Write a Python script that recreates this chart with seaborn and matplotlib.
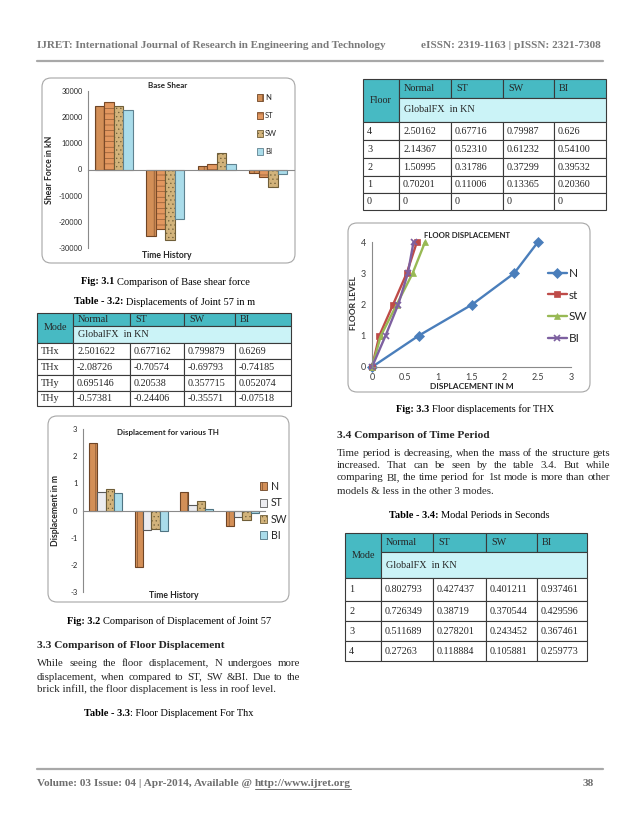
import numpy as np
import pandas as pd
import matplotlib
matplotlib.use('Agg')
import matplotlib.pyplot as plt
import seaborn as sns
from matplotlib.patches import FancyBboxPatch, Rectangle, Patch
from matplotlib.lines import Line2D
from matplotlib.ticker import MultipleLocator, AutoMinorLocator

# --- DATA ---
models = ['N', 'ST', 'SW', 'BI']
th_cases = ['THx (+)', 'THx (-)', 'THy (+)', 'THy (-)']

# Fig 3.1 base shear (kN)
shear_N = [24100, -25600, 1150, -1400]
shear_ST = [25800, -22700, 2200, -2900]
shear_SW = [24200, -26800, 6400, -6800]
shear_BI = [22800, -18900, 2200, -1900]

# Table 3.2 / Fig 3.2 displacement of joint 57 (m)
disp_modes = ['THx', 'THx', 'THy', 'THy']
disp_N = [2.501622, -2.08726, 0.695146, -0.57381]
disp_ST = [0.677162, -0.70574, 0.20538, -0.24406]
disp_SW = [0.799879, -0.69793, 0.357715, -0.35571]
disp_BI = [0.6269, -0.74185, 0.052074, -0.07518]

# Table 3.3 / Fig 3.3 floor displacement for THx
floors = ['4', '3', '2', '1', '0']
floor_N = ['2.50162', '2.14367', '1.50995', '0.70201', '0']
floor_ST = ['0.67716', '0.52310', '0.31786', '0.11006', '0']
floor_SW = ['0.79987', '0.61232', '0.37299', '0.13365', '0']
floor_BI = ['0.626', '0.54100', '0.39532', '0.20360', '0']
line_labels = ['N', 'st', 'SW', 'BI']

# Table 3.4 modal periods (s)
period_modes = ['1', '2', '3', '4']
period_N = ['0.802793', '0.726349', '0.511689', '0.27263']
period_ST = ['0.427437', '0.38719', '0.278201', '0.118884']
period_SW = ['0.401211', '0.370544', '0.243452', '0.105881']
period_BI = ['0.937461', '0.429596', '0.367461', '0.259773']

head_cols = ['Normal', 'ST', 'SW', 'BI']

# --- STYLE ---
sns.set_style('white')
plt.rcParams['font.family'] = ['Lato', 'DejaVu Sans']
plt.rcParams['axes.unicode_minus'] = False
plt.rcParams['hatch.linewidth'] = 0.4

SERIF = 'Liberation Serif'
W, H = 638, 826
TEAL = '#47bac3'
CYAN = '#cbf3f7'
GRID = '#3a3a3a'
AXC = '#8a8a8a'
TXT = '#262626'

fig = plt.figure(figsize=(W / 100, H / 100), dpi=100)
bg = fig.add_axes([0, 0, 1, 1])
bg.set_xlim(0, W)
bg.set_ylim(H, 0)
bg.axis('off')
renderer = fig.canvas.get_renderer()


def ax_box(l, t, r, b):
    return fig.add_axes([l / W, 1 - b / H, (r - l) / W, (b - t) / H])


def text_w(s, **kw):
    t = bg.text(0, 0, s, **kw)
    w = t.get_window_extent(renderer).width
    t.remove()
    return w


def rich(x, y, parts, size=7.5, ha='center', color='black'):
    # parts: (text, weight, space_before)
    sp = text_w('x x', family=SERIF, fontsize=size) - text_w('xx', family=SERIF, fontsize=size)
    ws = [text_w(s, family=SERIF, fontsize=size, fontweight=wt) for s, wt, _ in parts]
    total = sum(ws) + sp * sum(1 for p in parts[1:] if p[2])
    cx = x - total / 2 if ha == 'center' else x
    for i, ((s, wt, gap), w) in enumerate(zip(parts, ws)):
        if gap and i > 0:
            cx += sp
        bg.text(cx, y, s, family=SERIF, fontsize=size, fontweight=wt,
                color=color, ha='left', va='center')
        cx += w
    return cx


def paragraph(x0, x1, ys, lines, size=7.8):
    for i, (y, line) in enumerate(zip(ys, lines)):
        if i == len(lines) - 1:
            bg.text(x0, y, line, family=SERIF, fontsize=size, ha='left', va='center')
            continue
        words = line.split()
        ws = [text_w(w, family=SERIF, fontsize=size) for w in words]
        gap = (x1 - x0 - sum(ws)) / (len(words) - 1)
        cx = x0
        for w, wd in zip(words, ws):
            bg.text(cx, y, w, family=SERIF, fontsize=size, ha='left', va='center')
            cx += wd + gap


def draw_table(xs, ys, corner, row_labels, columns, size=7.3):
    # corner cell over both header rows
    bg.add_patch(Rectangle((xs[0], ys[0]), xs[1] - xs[0], ys[2] - ys[0],
                           fc=TEAL, ec=GRID, lw=0.8))
    bg.text((xs[0] + xs[1]) / 2, (ys[0] + ys[2]) / 2, corner, family=SERIF,
            fontsize=size, ha='center', va='center')
    for j, name in enumerate(head_cols):
        bg.add_patch(Rectangle((xs[j + 1], ys[0]), xs[j + 2] - xs[j + 1], ys[1] - ys[0],
                               fc=TEAL, ec=GRID, lw=0.8))
        bg.text(xs[j + 1] + 5, (ys[0] + ys[1]) / 2, name, family=SERIF,
                fontsize=size, ha='left', va='center')
    bg.add_patch(Rectangle((xs[1], ys[1]), xs[5] - xs[1], ys[2] - ys[1],
                           fc=CYAN, ec=GRID, lw=0.8))
    bg.text(xs[1] + 5, (ys[1] + ys[2]) / 2, 'GlobalFX  in KN', family=SERIF,
            fontsize=size, ha='left', va='center')
    for i, lab in enumerate(row_labels):
        y0, y1 = ys[i + 2], ys[i + 3]
        cells = [lab] + [col[i] for col in columns]
        for j, val in enumerate(cells):
            bg.add_patch(Rectangle((xs[j], y0), xs[j + 1] - xs[j], y1 - y0,
                                   fc='white', ec=GRID, lw=0.8))
            bg.text(xs[j] + 4, (y0 + y1) / 2, str(val), family=SERIF,
                    fontsize=size, ha='left', va='center')


def chart_box(l, t, r, b):
    bg.add_patch(FancyBboxPatch((l, t), r - l, b - t,
                                boxstyle='round,pad=0,rounding_size=9',
                                fc='white', ec='#a6a6a6', lw=0.8))


def bar_axes_style(ax, lim, step, labelsize):
    ax.set_facecolor('none')
    ax.set_ylim(-lim, lim)
    ax.set_xlabel('')
    ax.set_ylabel('')
    ax.set_xticks([])
    for s in ['top', 'right']:
        ax.spines[s].set_visible(False)
    ax.spines['bottom'].set_position(('data', 0))
    ax.spines['bottom'].set_color(AXC)
    ax.spines['left'].set_color(AXC)
    ax.spines['bottom'].set_linewidth(0.8)
    ax.spines['left'].set_linewidth(0.8)
    ax.yaxis.set_major_locator(MultipleLocator(step))
    ax.yaxis.set_minor_locator(AutoMinorLocator(5))
    ax.tick_params(axis='y', which='major', direction='inout', length=4, width=0.6,
                   color=AXC, labelsize=labelsize, labelcolor=TXT, pad=2)
    ax.tick_params(axis='y', which='minor', direction='inout', length=2.5,
                   width=0.5, color=AXC)


# --- PAGE HEADER / FOOTER ---
bg.text(37, 45, 'IJRET: International Journal of Research in Engineering and Technology',
        family=SERIF, fontsize=8.0, fontweight='bold', color='#7a7a7a', va='center')
bg.text(601, 45, 'eISSN: 2319-1163 | pISSN: 2321-7308', family=SERIF, fontsize=8.1,
        fontweight='bold', color='#7a7a7a', va='center', ha='right')
bg.plot([37, 603], [61, 61], color='#a8a8a8', lw=1.6)
bg.plot([37, 603], [769, 769], color='#a8a8a8', lw=1.6)
x_end = rich(37, 783, [('Volume: 03 Issue: 04 | Apr-2014, Available @', 'bold', False),
                       ('http://www.ijret.org', 'bold', True)],
             size=8.1, ha='left', color='#6e6e6e')
lw_link = text_w('http://www.ijret.org', family=SERIF, fontsize=8.1, fontweight='bold')
bg.plot([x_end - lw_link, x_end], [788.5, 788.5], color='#6e6e6e', lw=0.7)
bg.text(594, 783, '38', family=SERIF, fontsize=8.1, fontweight='bold',
        color='#6e6e6e', ha='right', va='center')

# --- FIG 3.1 BASE SHEAR ---
chart_box(42, 78, 295, 263)
ax1 = ax_box(88, 91, 294, 248)
df1 = pd.DataFrame([(c, m, v) for m, vals in zip(models, [shear_N, shear_ST, shear_SW, shear_BI])
                    for c, v in zip(th_cases, vals)], columns=['case', 'model', 'shear'])
shear_fc = ['#d38f57', '#e2975f', '#d2b37b', '#aadcea']
shear_ec = ['#6e4526', '#7a4a28', '#6f5e38', '#5f8290']
shear_hatch = ['||', '---', '....', '']
sns.barplot(data=df1, x='case', y='shear', hue='model', order=th_cases, hue_order=models,
            palette=dict(zip(models, shear_fc)), saturation=1, width=0.74, legend=False,
            linewidth=0.8, ax=ax1)
for cont, ec, h in zip(ax1.containers, shear_ec, shear_hatch):
    for bar in cont:
        bar.set_edgecolor(ec)
        bar.set_hatch(h)
bar_axes_style(ax1, 30000, 10000, 5.3)
bg.text(168, 85, 'Base Shear', fontsize=5.8, fontweight='bold', color=TXT, ha='center', va='center')
bg.text(49, 170, 'Shear Force in kN', fontsize=6.2, fontweight='bold', color=TXT,
        ha='center', va='center', rotation=90)
bg.text(167, 256, 'Time History', fontsize=6.2, fontweight='bold', color=TXT, ha='center', va='center')
h1 = [Patch(fc=f, ec=e, hatch=h, lw=0.6) for f, e, h in zip(shear_fc, shear_ec, shear_hatch)]
fig.legend(h1, models, loc='upper left', bbox_to_anchor=(257 / W, 1 - 94 / H), frameon=False,
           fontsize=5.5, handlelength=0.8, handleheight=0.9, handletextpad=0.25,
           labelspacing=1.45, borderpad=0, borderaxespad=0, labelcolor=TXT)

rich(165, 282, [('Fig: 3.1', 'bold', False), ('Comparison of Base shear force', 'normal', True)])
rich(165, 302, [('Table - 3.2:', 'bold', False), ('Displacements of Joint 57 in m', 'normal', True)])

# --- TABLE 3.2 ---
draw_table([37, 73, 130, 184, 235, 291], [313, 326, 343, 359, 375, 391, 406],
           'Mode', disp_modes, [[str(v) for v in col] for col in [disp_N, disp_ST, disp_SW, disp_BI]])

# --- FIG 3.2 DISPLACEMENT ---
chart_box(48, 416, 289, 602)
ax2 = ax_box(83, 429, 265, 592)
df2 = pd.DataFrame([(c, m, v) for m, vals in zip(models, [disp_N, disp_ST, disp_SW, disp_BI])
                    for c, v in zip(th_cases, vals)], columns=['case', 'model', 'disp'])
disp_fc = ['#d38f57', '#ececf0', '#d2b37b', '#aadcea']
disp_ec = ['#6e4526', '#5a5a5a', '#6f5e38', '#4f7482']
disp_hatch = ['||', '', '....', '']
sns.barplot(data=df2, x='case', y='disp', hue='model', order=th_cases, hue_order=models,
            palette=dict(zip(models, disp_fc)), saturation=1, width=0.73, legend=False,
            linewidth=0.8, ax=ax2)
for cont, ec, h in zip(ax2.containers, disp_ec, disp_hatch):
    for bar in cont:
        bar.set_edgecolor(ec)
        bar.set_hatch(h)
bar_axes_style(ax2, 3, 1, 5.5)
bg.text(168, 432, 'Displacement for various TH', fontsize=5.8, fontweight='bold', color=TXT,
        ha='center', va='center')
bg.text(55, 510, 'Displacement in m', fontsize=6.2, fontweight='bold', color=TXT,
        ha='center', va='center', rotation=90)
bg.text(174, 596, 'Time History', fontsize=6.2, fontweight='bold', color=TXT, ha='center', va='center')
h2 = [Patch(fc=f, ec=e, hatch=h, lw=0.6) for f, e, h in zip(disp_fc, disp_ec, disp_hatch)]
fig.legend(h2, models, loc='upper left', bbox_to_anchor=(260 / W, 1 - 481 / H), frameon=False,
           fontsize=7.6, handlelength=0.7, handleheight=0.8, handletextpad=0.3,
           labelspacing=0.5, borderpad=0, borderaxespad=0, labelcolor=TXT)

rich(169, 621, [('Fig: 3.2', 'bold', False), ('Comparison of Displacement of Joint 57', 'normal', True)])
bg.text(37, 646, '3.3 Comparison of Floor Displacement', family=SERIF, fontsize=8.2,
        fontweight='bold', va='center')
paragraph(37, 300, [664, 677, 689], [
    'While seeing the floor displacement, N undergoes more',
    'displacement, when compared to ST, SW &BI. Due to the',
    'brick infill, the floor displacement is less in roof level.'])
rich(169, 713, [('Table - 3.3', 'bold', False), (': Floor Displacement For Thx', 'normal', False)])

# --- TABLE 3.3 ---
draw_table([363, 399, 451, 503, 554, 606], [79, 98, 122, 140, 158, 176, 193, 210],
           'Floor', floors, [floor_N, floor_ST, floor_SW, floor_BI])

# --- FIG 3.3 FLOOR DISPLACEMENT ---
chart_box(348, 223, 590, 392)
ax3 = ax_box(372, 242, 571, 367)
df3 = pd.DataFrame([(float(v), int(f), lab) for lab, vals in
                    zip(line_labels, [floor_N, floor_ST, floor_SW, floor_BI])
                    for f, v in zip(floors, vals)], columns=['disp', 'floor', 'model'])
line_colors = ['#4a7ebb', '#be4b48', '#98b954', '#7d60a0']
line_markers = ['D', 's', '^', 'x']
sns.lineplot(data=df3, x='disp', y='floor', hue='model', hue_order=line_labels,
             palette=dict(zip(line_labels, line_colors)),
             sort=False, estimator=None, legend=False, lw=1.7, ax=ax3)
# seaborn refuses to mix filled and line-art markers, so set them per line
for ln, m in zip(ax3.lines, line_markers):
    ln.set_marker(m)
    ln.set_markersize(5)
    ln.set_markeredgecolor(ln.get_color())
    ln.set_markerfacecolor(ln.get_color())
    ln.set_markeredgewidth(1.2 if m == 'x' else 0.5)
    ln.set_clip_on(False)
ax3.set_facecolor('none')
ax3.set_xlim(0, 3)
ax3.set_ylim(0, 4)
ax3.set_xticks(np.arange(0, 3.01, 0.5))
ax3.set_xticklabels(['0', '0.5', '1', '1.5', '2', '2.5', '3'])
ax3.set_yticks(range(5))
ax3.set_xlabel('')
ax3.set_ylabel('')
for s in ['top', 'right']:
    ax3.spines[s].set_visible(False)
for s in ['left', 'bottom']:
    ax3.spines[s].set_color(AXC)
    ax3.spines[s].set_linewidth(0.8)
ax3.tick_params(direction='out', length=3, width=0.6, color=AXC, labelsize=6.5,
                labelcolor='#404040', pad=1.5)
bg.text(467, 236, 'FLOOR DISPLACEMENT', fontsize=5.6, fontweight='bold', color=TXT,
        ha='center', va='center')
bg.text(354, 303, 'FLOOR LEVEL', fontsize=6, fontweight='bold', color=TXT,
        ha='center', va='center', rotation=90)
bg.text(472, 386.5, 'DISPLACEMENT IN M', fontsize=6, fontweight='bold', color=TXT,
        ha='center', va='center')
h3 = [Line2D([], [], color=c, marker=m, lw=1.7, markersize=5, mec=c,
             mew=1.2 if m == 'x' else 0.5)
      for c, m in zip(line_colors, line_markers)]
fig.legend(h3, line_labels, loc='upper left', bbox_to_anchor=(548 / W, 1 - 268 / H),
           frameon=False, fontsize=8.5, handlelength=1.6, handletextpad=0.15,
           labelspacing=0.9, borderpad=0, borderaxespad=0, labelcolor=TXT)

rich(475, 409, [('Fig: 3.3', 'bold', False), ('Floor displacements for THX', 'normal', True)])
bg.text(337, 436, '3.4 Comparison of Time Period', family=SERIF, fontsize=8.2,
        fontweight='bold', va='center')
paragraph(337, 610, [454, 466, 478, 491], [
    'Time period is decreasing, when the mass of the structure gets',
    'increased. That can be seen by the table 3.4. But while',
    'comparing BI, the time period for 1st mode is more than other',
    'models & less in the other 3 modes.'])
rich(469, 515, [('Table - 3.4:', 'bold', False), ('Modal Periods in Seconds', 'normal', True)])

# --- TABLE 3.4 ---
draw_table([345, 381, 433, 486, 537, 587], [533, 552, 578, 601, 621, 641, 661],
           'Mode', period_modes, [period_N, period_ST, period_SW, period_BI])

fig.savefig('out.png', dpi=100)
